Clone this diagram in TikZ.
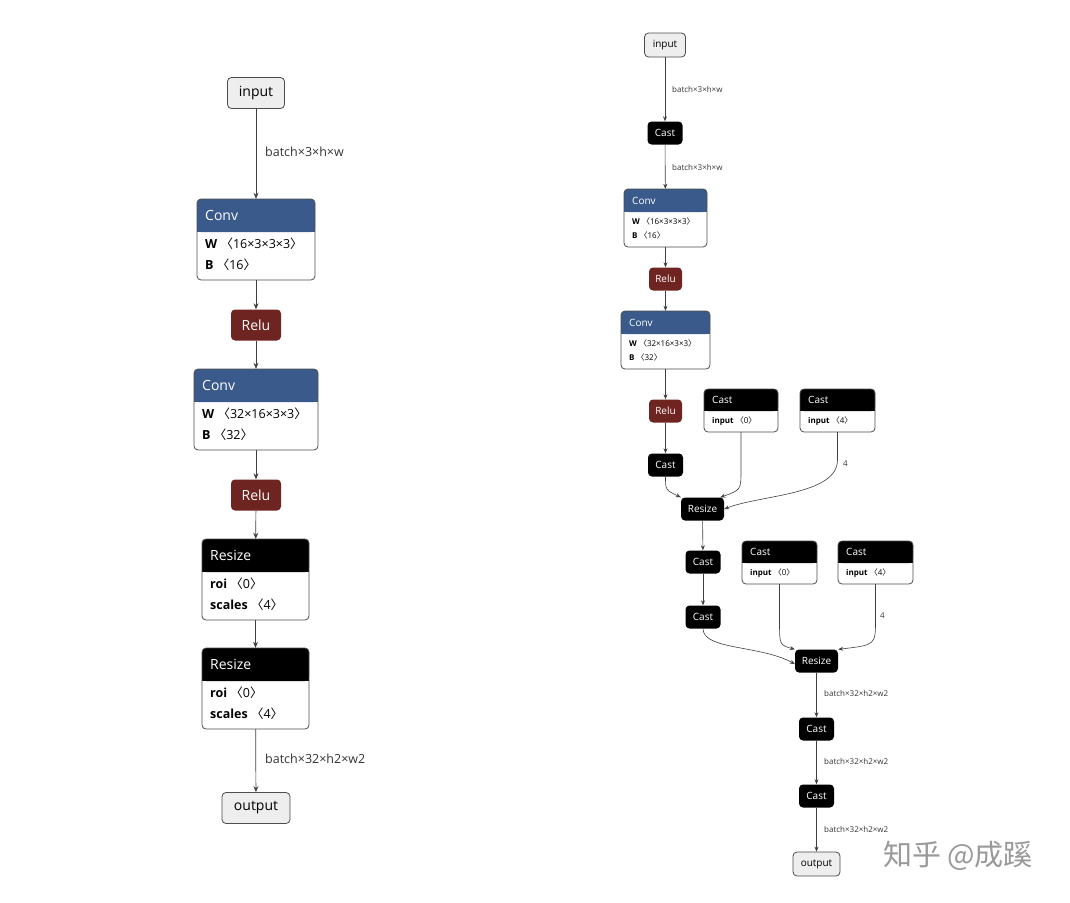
\documentclass[tikz,border=0pt]{standalone}
\usepackage{fontspec}
\setmainfont{Open Sans}
\newfontfamily\cjk{Noto Sans CJK SC}
\usetikzlibrary{arrows.meta}
\definecolor{convblue}{HTML}{3A5A8C}
\definecolor{reluc}{HTML}{6E2420}
\definecolor{iogray}{HTML}{EEEEEE}
\newcommand\lb{{\cjk 〈}}
\newcommand\rb{{\cjk 〉}}
\tikzset{
  io/.style={draw=black!70,fill=iogray,rounded corners=4pt,line width=0.8pt,inner sep=0pt},
  op/.style={fill=#1,text=white,rounded corners=4pt,inner sep=0pt},
  conn/.style={draw=black!75,line width=0.7pt,-{Stealth[length=6pt,width=5pt]}},
  lab/.style={anchor=west,inner sep=0pt,text=black!80}
}
\newcommand\cbox[9]{%
  \fill[#7,rounded corners=4pt] ({#2-#4/2},#3) rectangle ({#2+#4/2},{#3+#6});
  \fill[#7] ({#2-#4/2},{#3+#6-5}) rectangle ({#2+#4/2},{#3+#6});
  \draw[black!70,line width=0.8pt,rounded corners=4pt] ({#2-#4/2},#3) rectangle ({#2+#4/2},{#3+#5});
  \node[inner sep=0pt,minimum width=#4,minimum height=#5] (#1) at (#2,{#3+#5/2}) {};
  \node[anchor=west,text=white,inner sep=0pt,font=\fsz] at ({#2-#4/2+8},{#3+#6/2}) {#8};
  \node[anchor=north west,align=left,inner sep=0pt,font=\bsz] at ({#2-#4/2+8},{#3+#6+6}) {#9};}
\newcommand\fsz{}\newcommand\bsz{}
\begin{document}
\begin{tikzpicture}[x=1pt,y=-1pt]
\useasboundingbox (0,0) rectangle (1070,902);
% ---------- left ----------
\renewcommand\fsz{\fontsize{14}{16}\selectfont}
\renewcommand\bsz{\fontsize{12.5}{21}\selectfont}
\node[io,minimum width=57,minimum height=31] (Lin) at (256,93) {\fontsize{14}{16}\selectfont input};
\cbox{Lc1}{256}{199}{118}{81}{33}{convblue}{Conv}{\textbf{W} \lb16×3×3×3\rb\\\textbf{B} \lb16\rb}
\node[op=reluc,minimum width=50,minimum height=31] (Lr1) at (256,325) {\fontsize{14}{16}\selectfont Relu};
\cbox{Lc2}{256}{369}{124}{81}{33}{convblue}{Conv}{\textbf{W} \lb32×16×3×3\rb\\\textbf{B} \lb32\rb}
\node[op=reluc,minimum width=50,minimum height=31] (Lr2) at (256,495) {\fontsize{14}{16}\selectfont Relu};
\cbox{Lz1}{255.5}{539}{107}{81}{33}{black}{Resize}{\textbf{roi} \lb0\rb\\\textbf{scales} \lb4\rb}
\cbox{Lz2}{255.5}{648}{107}{81}{33}{black}{Resize}{\textbf{roi} \lb0\rb\\\textbf{scales} \lb4\rb}
\node[io,minimum width=68,minimum height=31] (Lout) at (256,808) {\fontsize{14}{16}\selectfont output};
\draw[conn] (Lin) -- (Lc1);
\draw[conn] (Lc1) -- (Lr1);
\draw[conn] (Lr1) -- (Lc2);
\draw[conn] (Lc2) -- (Lr2);
\draw[conn] (Lr2) -- (Lz1);
\draw[conn] (Lz1) -- (Lz2);
\draw[conn] (Lz2) -- (Lout);
\node[lab] at (265,152) {\fontsize{12.5}{14}\selectfont batch×3×h×w};
\node[lab] at (265,759) {\fontsize{12.5}{14}\selectfont batch×32×h2×w2};
% ---------- right ----------
\renewcommand\fsz{\fontsize{10}{12}\selectfont}
\renewcommand\bsz{\fontsize{8}{14}\selectfont}
\tikzset{sop/.style={op=#1,minimum width=35,minimum height=23,font=\fontsize{10}{12}\selectfont},
         slab/.style={lab,font=\fontsize{8}{10}\selectfont}}
\node[io,minimum width=41,minimum height=24,font=\fontsize{10}{12}\selectfont] (Rin) at (665,45) {input};
\node[sop=black] (Rc0) at (665,133) {Cast};
\cbox{Rv1}{665.5}{189}{83}{58}{23}{convblue}{Conv}{\textbf{W} \lb16×3×3×3\rb\\\textbf{B} \lb16\rb}
\node[sop=reluc,minimum width=33] (Rr1) at (665.5,279) {Relu};
\cbox{Rv2}{665.5}{311}{89}{58}{23}{convblue}{Conv}{\textbf{W} \lb32×16×3×3\rb\\\textbf{B} \lb32\rb}
\node[sop=reluc,minimum width=33] (Rr2) at (665.5,411) {Relu};
\cbox{Ra}{741}{389}{74}{43}{22}{black}{Cast}{\textbf{input} \lb0\rb}
\cbox{Rb}{837.5}{389}{75}{43}{22}{black}{Cast}{\textbf{input} \lb4\rb}
\node[sop=black] (Rc1) at (665.5,465) {Cast};
\node[sop=black,minimum width=43] (Rz1) at (702.5,509) {Resize};
\node[sop=black] (Rc2) at (703,562) {Cast};
\cbox{Rd}{779.5}{541}{75}{43}{22}{black}{Cast}{\textbf{input} \lb0\rb}
\cbox{Re}{875.5}{541}{75}{43}{22}{black}{Cast}{\textbf{input} \lb4\rb}
\node[sop=black] (Rc3) at (703,617) {Cast};
\node[sop=black,minimum width=43] (Rz2) at (816.5,661) {Resize};
\node[sop=black] (Rc4) at (816.5,729) {Cast};
\node[sop=black] (Rc5) at (816.5,796) {Cast};
\node[io,minimum width=47,minimum height=24,font=\fontsize{10}{12}\selectfont] (Rout) at (816.5,864) {output};
\tikzset{conn/.append style={line width=0.6pt,-{Stealth[length=5pt,width=4pt]}}}
\draw[conn] (Rin) -- (Rc0);
\draw[conn] (Rc0) -- (Rv1);
\draw[conn] (Rv1) -- (Rr1);
\draw[conn] (Rr1) -- (Rv2);
\draw[conn] (Rv2) -- (Rr2);
\draw[conn] (Rr2) -- (Rc1);
\draw[conn] (Rc1.south) .. controls (665.5,490) .. (Rz1.north west);
\draw[conn] (Ra.south) -- (741,470) .. controls (741,490) .. ([xshift=-4pt]Rz1.north east);
\draw[conn] (Rb.south) -- (837.5,460) .. controls (837.5,495) and (760,495) .. (Rz1.east);
\draw[conn] (Rz1) -- (Rc2);
\draw[conn] (Rc2) -- (Rc3);
\draw[conn] (Rc3.south) .. controls (703,650) and (760,645) .. ([yshift=-3pt]Rz2.west);
\draw[conn] (Rd.south) -- (779.5,620) .. controls (779.5,645) .. (Rz2.north west);
\draw[conn] (Re.south) -- (875.5,620) .. controls (875.5,645) .. (Rz2.north east);
\draw[conn] (Rz2) -- (Rc4);
\draw[conn] (Rc4) -- (Rc5);
\draw[conn] (Rc5) -- (Rout);
\node[slab] at (672,89) {batch×3×h×w};
\node[slab] at (672,167) {batch×3×h×w};
\node[slab] at (843,464) {4};
\node[slab] at (880,616) {4};
\node[slab] at (824,693) {batch×32×h2×w2};
\node[slab] at (824,761) {batch×32×h2×w2};
\node[slab] at (824,829) {batch×32×h2×w2};
% watermark
\node[text=black!40,inner sep=0pt] (wm) at (958,856) {\cjk\fontsize{29}{31}\selectfont 知乎 @成蹊};
\end{tikzpicture}
\end{document}
